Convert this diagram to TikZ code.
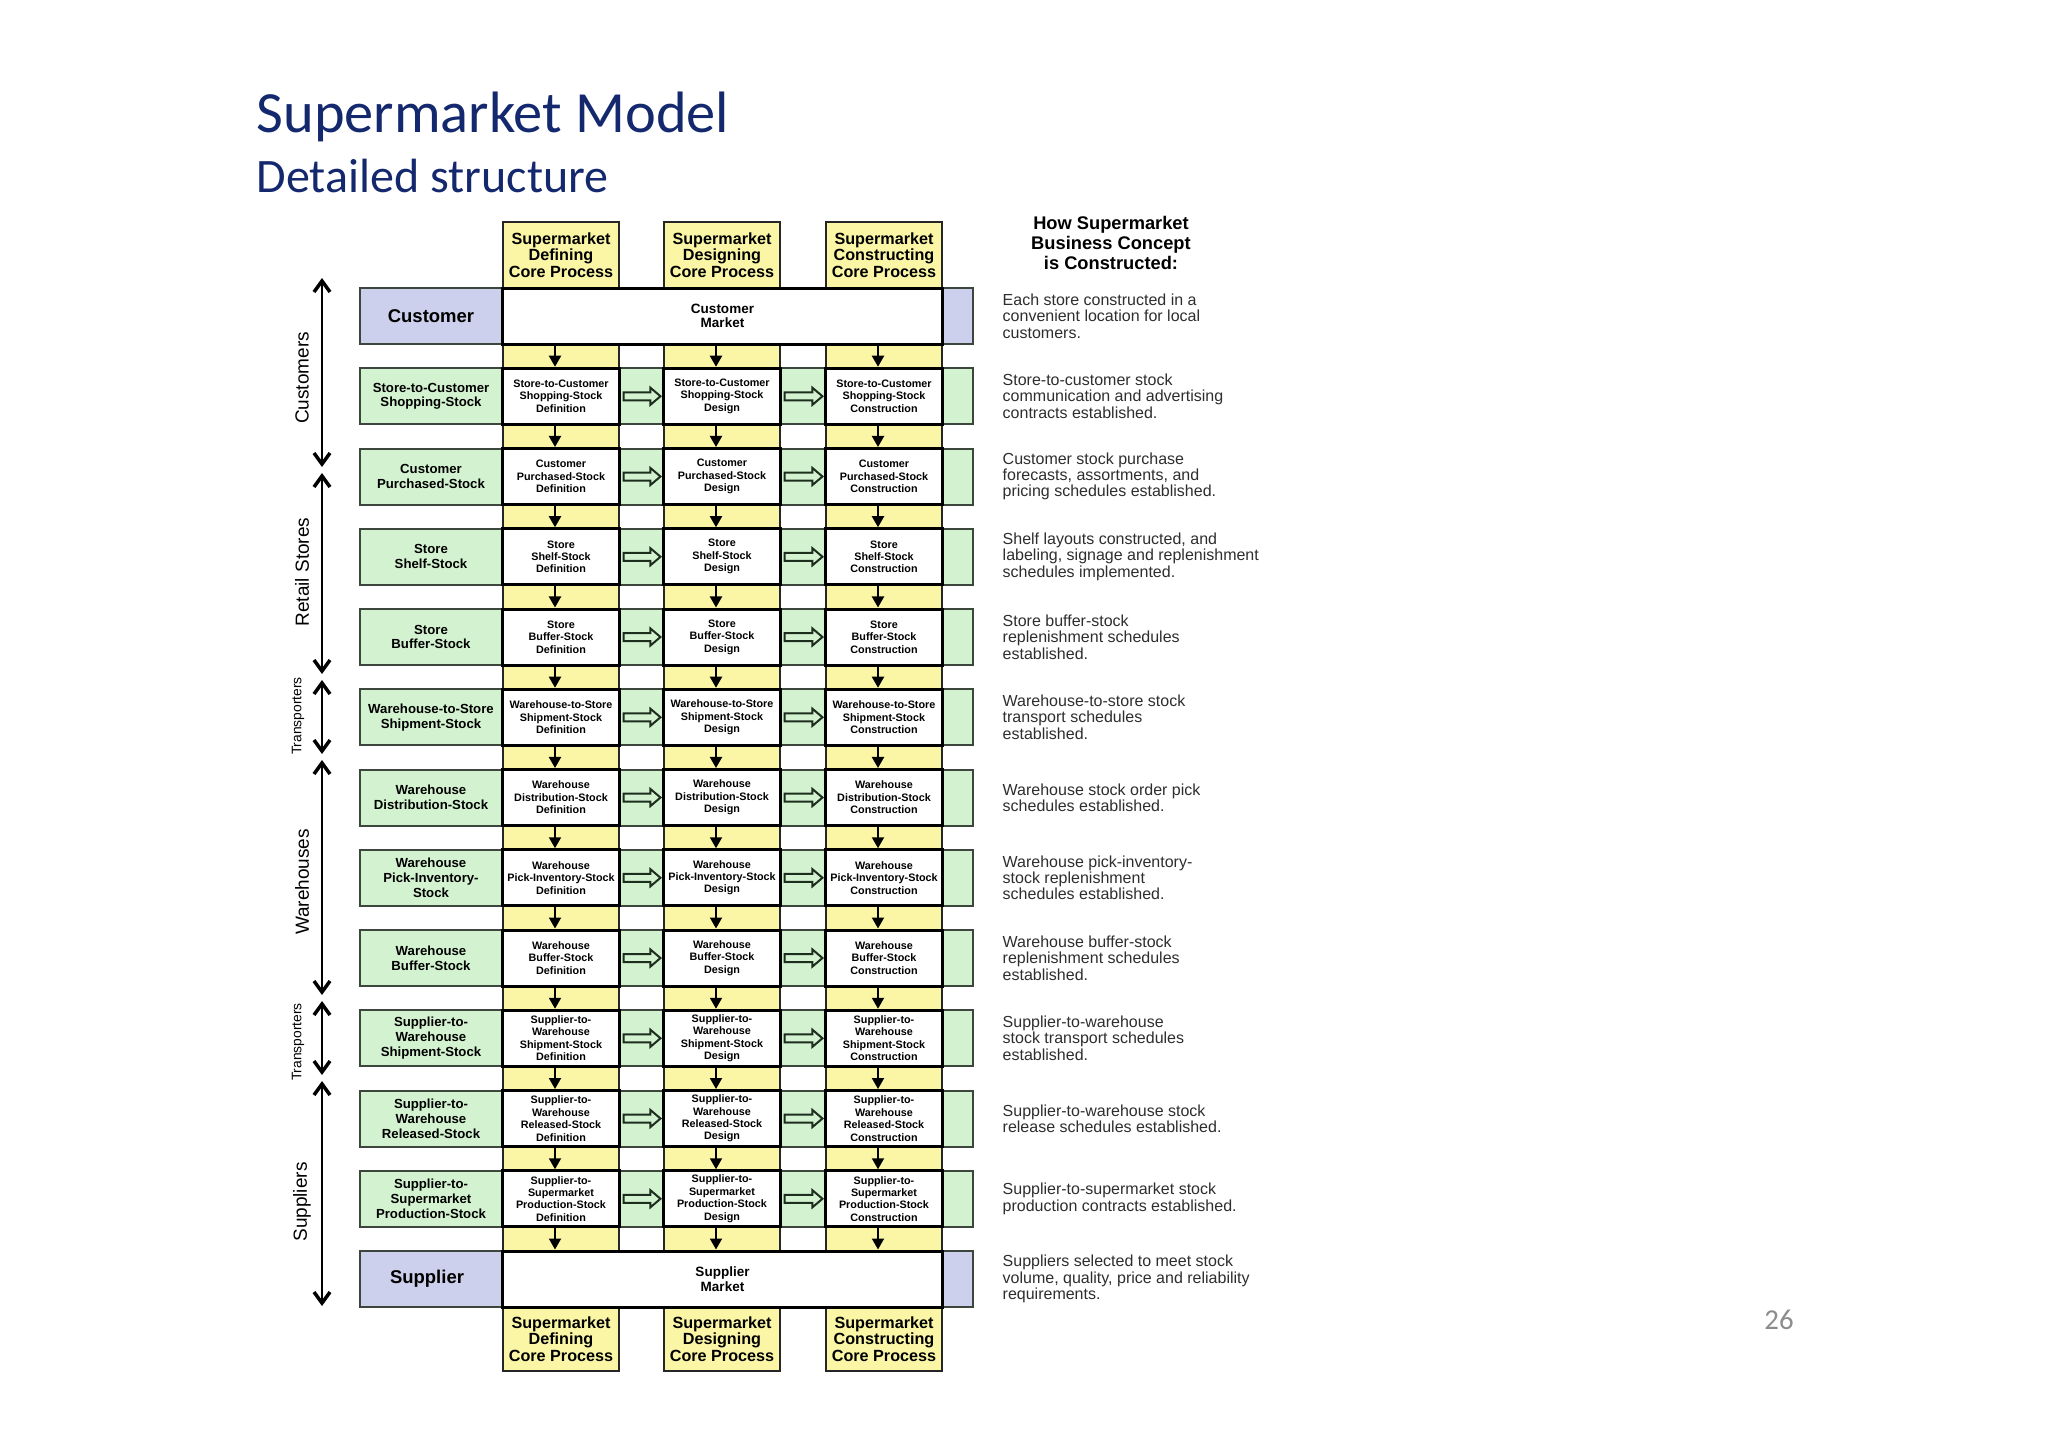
\documentclass[tikz,border=0pt]{standalone}
\usepackage{fontspec}
\setmainfont{Liberation Sans}
\newfontfamily\calibri{Carlito}
\usetikzlibrary{arrows.meta,calc}
\definecolor{colyellow}{HTML}{FAF6A6}
\definecolor{rowgreen}{HTML}{D3F2D0}
\definecolor{lav}{HTML}{CDD0EC}
\definecolor{rowborder}{HTML}{3C463C}
\definecolor{titleblue}{HTML}{14286E}
\definecolor{pagegray}{HTML}{8C8C8C}
\definecolor{bodytext}{HTML}{2E2E2E}
\definecolor{arrowline}{HTML}{1E2E1E}

\tikzset{
 colbar/.style={fill=colyellow, draw=black!85, line width=0.2mm},
 header/.style={fill=colyellow, draw=black!85, line width=0.2mm, minimum width=11.6mm, inner sep=0pt, align=center, font=\bfseries\fontsize{4.6}{4.66}\selectfont},
 rowband/.style={fill=rowgreen, draw=rowborder, line width=0.2mm},
 endband/.style={fill=lav, draw=rowborder, line width=0.2mm},
 cellbox/.style={fill=white, draw=black, line width=0.3mm, minimum width=11.6mm, minimum height=5.6mm, inner sep=0pt, align=center, font=\bfseries\fontsize{3.07}{3.53}\selectfont},
 market/.style={fill=white, draw=black, line width=0.3mm, minimum width=43.9mm, minimum height=5.6mm, inner sep=0pt, align=center, font=\bfseries\fontsize{3.84}{4.1}\selectfont},
 rowlabel/.style={align=center, inner sep=0pt, font=\bfseries\fontsize{3.75}{4.21}\selectfont},
 endlabel/.style={inner sep=0pt, font=\bfseries\fontsize{5.26}{6}\selectfont},
 pointnode/.style={inner sep=0pt, minimum size=0pt, outer sep=0pt},
 downarr/.style={draw=black, line width=0.2mm, -{Triangle[length=1.1mm,width=1.2mm]}},
 hollow/.style={draw=arrowline, fill=rowgreen, line width=0.2mm, line join=miter},
 axisarr/.style={draw=black, line width=0.2mm, {Straight Barb[length=1.1mm,width=1.6mm,line width=0.35mm]}-{Straight Barb[length=1.1mm,width=1.6mm,line width=0.35mm]}},
 axislabel/.style={rotate=90, inner sep=0pt, font=\fontsize{5.4}{6}\selectfont},
 smallaxislabel/.style={rotate=90, inner sep=0pt, font=\fontsize{3.93}{4.5}\selectfont},
 note/.style={anchor=west, align=left, inner sep=0pt, text=bodytext, font=\fontsize{4.55}{4.64}\selectfont},
 noteheading/.style={align=center, inner sep=0pt, font=\bfseries\fontsize{5.2}{5.58}\selectfont},
}

\newcommand\hollowarr[2]{%
 \draw[hollow] ($(#1.east)+(3,-4)$) -- ($(#2.west)+(-12,-4)$) -- ($(#2.west)+(-12,-8.5)$) -- ($(#2.west)+(-2,0)$) -- ($(#2.west)+(-12,8.5)$) -- ($(#2.west)+(-12,4)$) -- ($(#1.east)+(3,4)$) -- cycle;}

\begin{document}
\begin{tikzpicture}[x=0.01cm,y=-0.01cm]
\useasboundingbox[fill=white] (0,0) rectangle (2048,1447);

% titles
\node[anchor=base west, inner sep=0pt, text=titleblue, font=\calibri\fontsize{16.6}{20}\selectfont] (title) at (256,132) {Supermarket Model};
\node[anchor=base west, inner sep=0pt, text=titleblue, font=\calibri\fontsize{13.66}{16}\selectfont] (subtitle) at (256,192) {Detailed structure};

% yellow process columns with headers
\foreach \c/\cx/\verb in {1/561/Defining,2/722/Designing,3/884/Constructing}{
  \draw[colbar] (\cx-58,222) rectangle (\cx+58,1371);
  \node[header, minimum height=6.6mm] (h\c) at (\cx,255) {Supermarket\\\verb\\Core Process};
  \node[header, minimum height=6.4mm] (b\c) at (\cx,1339) {Supermarket\\\verb\\Core Process};
}

% customer row
\draw[endband] (360,288) rectangle (973,344);
\node[endlabel] (l-0) at (431,316) {Customer};
\node[market] (mkt0) at (722.5,316) {Customer\\Market};

% supplier row
\draw[endband] (360,1251) rectangle (973,1307);
\node[endlabel] (l-12) at (427,1279) {Supplier};
\node[market] (mkt12) at (722.5,1279) {Supplier\\Market};

\foreach \c in {1,2,3}{
  \node[pointnode] (c-0-\c) at (mkt0.south -| h\c) {};
  \node[pointnode] (c-12-\c) at (mkt12.north -| h\c) {};
}

% stock rows
\foreach \r/\lab/\cel in {
 1/{Store-to-Customer\\Shopping-Stock}/{Store-to-Customer\\Shopping-Stock},
 2/{Customer\\Purchased-Stock}/{Customer\\Purchased-Stock},
 3/{Store\\Shelf-Stock}/{Store\\Shelf-Stock},
 4/{Store\\Buffer-Stock}/{Store\\Buffer-Stock},
 5/{Warehouse-to-Store\\Shipment-Stock}/{Warehouse-to-Store\\Shipment-Stock},
 6/{Warehouse\\Distribution-Stock}/{Warehouse\\Distribution-Stock},
 7/{Warehouse\\Pick-Inventory-\\Stock}/{Warehouse\\Pick-Inventory-Stock},
 8/{Warehouse\\Buffer-Stock}/{Warehouse\\Buffer-Stock},
 9/{Supplier-to-\\Warehouse\\Shipment-Stock}/{Supplier-to-\\Warehouse\\Shipment-Stock},
 10/{Supplier-to-\\Warehouse\\Released-Stock}/{Supplier-to-\\Warehouse\\Released-Stock},
 11/{Supplier-to-\\Supermarket\\Production-Stock}/{Supplier-to-\\Supermarket\\Production-Stock}}{
  \pgfmathsetmacro\yc{316+80.25*\r}
  \draw[rowband] (360,\yc-28) rectangle (973,\yc+28);
  \node[rowlabel] (l-\r) at (431,\yc) {\lab};
  \foreach \c/\cx/\stage in {1/561/Definition,2/722/Design,3/884/Construction}{
    \node[cellbox] (c-\r-\c) at (\cx,\yc) {\cel\\\stage};
  }
}

% vertical flow arrows
\foreach \r [evaluate=\r as \n using int(\r+1)] in {0,...,11}{
  \foreach \c in {1,2,3}{
    \draw[downarr] ([xshift=-0.6mm]c-\r-\c.south) -- ([xshift=-0.6mm]c-\n-\c.north);
  }
}

% horizontal hollow arrows
\foreach \r in {1,...,11}{
  \hollowarr{c-\r-1}{c-\r-2}
  \hollowarr{c-\r-2}{c-\r-3}
}

% left axis
\node[pointnode] (ax0) at (322,278) {};
\node[pointnode] (ax1) at (322,470) {};
\node[pointnode] (ax2) at (322,677) {};
\node[pointnode] (ax3) at (322,757) {};
\node[pointnode] (ax4) at (322,998) {};
\node[pointnode] (ax5) at (322,1078) {};
\node[pointnode] (ax6) at (322,1306) {};
\draw[axisarr, shorten >=0.3mm] (ax0) -- (ax1);
\draw[axisarr, shorten >=0.3mm, shorten <=0.3mm] (ax1) -- (ax2);
\draw[axisarr, shorten >=0.3mm, shorten <=0.3mm] (ax2) -- (ax3);
\draw[axisarr, shorten >=0.3mm, shorten <=0.3mm] (ax3) -- (ax4);
\draw[axisarr, shorten >=0.3mm, shorten <=0.3mm] (ax4) -- (ax5);
\draw[axisarr, shorten <=0.3mm] (ax5) -- (ax6);

\node[axislabel] (s1) at (302,378) {Customers};
\node[axislabel] (s2) at (302,572) {Retail Stores};
\node[smallaxislabel] (s3) at (298,716) {Transporters};
\node[axislabel] (s4) at (302,882) {Warehouses};
\node[smallaxislabel] (s5) at (298,1042) {Transporters};
\node[axislabel] (s6) at (302,1202) {Suppliers};

% right-hand notes
\node[noteheading] (nh) at (1111,243) {How Supermarket\\Business Concept\\is Constructed:};
\foreach \r/\txt in {
 0/{Each store constructed in a\\convenient location for local\\customers.},
 1/{Store-to-customer stock\\communication and advertising\\contracts established.},
 2/{Customer stock purchase\\forecasts, assortments, and\\pricing schedules established.},
 3/{Shelf layouts constructed, and\\labeling, signage and replenishment\\schedules implemented.},
 4/{Store buffer-stock\\replenishment schedules\\established.},
 5/{Warehouse-to-store stock\\transport schedules\\established.},
 6/{Warehouse stock order pick\\schedules established.},
 7/{Warehouse pick-inventory-\\stock replenishment\\schedules established.},
 8/{Warehouse buffer-stock\\replenishment schedules\\established.},
 9/{Supplier-to-warehouse\\stock transport schedules\\established.},
 10/{Supplier-to-warehouse stock\\release schedules established.},
 11/{Supplier-to-supermarket stock\\production contracts established.},
 12/{Suppliers selected to meet stock\\volume, quality, price and reliability\\requirements.}}{
  \pgfmathsetmacro\yc{316+80.25*\r}
  \node[note] (n-\r) at (1002,\yc) {\txt};
}

% page number
\node[inner sep=0pt, text=pagegray, font=\calibri\fontsize{8.2}{10}\selectfont] (pg) at (1779,1320) {26};
\end{tikzpicture}
\end{document}
